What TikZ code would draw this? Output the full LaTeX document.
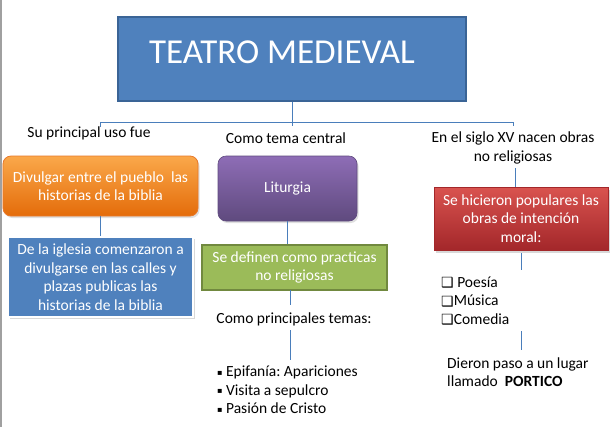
\documentclass[tikz,border=0pt]{standalone}
\usepackage{fontspec}
\setmainfont{Carlito}
\newfontfamily\symfont{DejaVu Sans}
\usetikzlibrary{shadows}
\frenchspacing
\definecolor{mainblue}{HTML}{4F81BD}
\definecolor{mainborder}{HTML}{3A6496}
\definecolor{linkblue}{HTML}{4A7EBB}
\definecolor{orangetop}{HTML}{FAA84A}
\definecolor{orangebot}{HTML}{E46C0A}
\definecolor{orangeborder}{HTML}{E8792A}
\definecolor{purpletop}{HTML}{8E6DB6}
\definecolor{purplebot}{HTML}{5F4A7E}
\definecolor{greenfill}{HTML}{9BBB59}
\definecolor{greenborder}{HTML}{71893F}
\definecolor{redtop}{HTML}{D9534F}
\definecolor{redbot}{HTML}{A3272A}
\definecolor{edgegray}{HTML}{A0A0A0}
\newcommand{\bodyfont}{\fontsize{15.5bp}{18.6bp}\selectfont}
\newcommand{\sqbullet}{\raisebox{1.6bp}{\symfont\fontsize{8bp}{9bp}\selectfont ▪}}
\newcommand{\chkbox}{\raisebox{-0.3bp}{\symfont\fontsize{14bp}{14bp}\selectfont ❑}}
\tikzset{
  box/.style={inner sep=0pt, align=center, text=white, font=\bodyfont},
  mainbox/.style={box, fill=mainblue, draw=mainborder, line width=1.2bp,
    minimum width=348bp, minimum height=84bp},
  titletxt/.style={text=white, inner sep=0pt, font=\fontsize{35bp}{40bp}\selectfont},
  orangebox/.style={box, rounded corners=8bp, top color=orangetop, bottom color=orangebot,
    draw=orangeborder, line width=0.8bp, minimum width=195bp, minimum height=60bp,
    drop shadow={opacity=0.25, shadow xshift=1.5bp, shadow yshift=-2bp}},
  bluebox/.style={box, fill=mainblue, draw=white, line width=1.5bp,
    minimum width=185bp, minimum height=80bp,
    drop shadow={opacity=0.3, shadow xshift=2bp, shadow yshift=-2bp}},
  purplebox/.style={box, rounded corners=8bp, top color=purpletop, bottom color=purplebot,
    draw=purplebot, line width=0.6bp, minimum width=139bp, minimum height=65bp,
    drop shadow={opacity=0.25, shadow xshift=1.5bp, shadow yshift=-2bp}},
  greenbox/.style={box, fill=greenfill, draw=greenborder, line width=1.5bp,
    minimum width=185bp, minimum height=45bp},
  redbox/.style={box, top color=redtop, bottom color=redbot, draw=redbot, line width=0.6bp,
    minimum width=174bp, minimum height=63bp,
    drop shadow={opacity=0.3, shadow xshift=2bp, shadow yshift=-2.5bp}},
  plain/.style={inner sep=0pt, align=center, text=black, font=\bodyfont},
  plainleft/.style={inner sep=0pt, align=left, text=black, font=\bodyfont},
  link/.style={draw=linkblue, line width=0.8bp}
}
\begin{document}
\begin{tikzpicture}[x=1bp,y=-1bp]
\useasboundingbox (0,0) rectangle (616,427);
\fill[white] (0,0) rectangle (616,427);
\fill[edgegray] (0,0) rectangle (2,427);

% main title
\node[mainbox] (main) at (292,59) {};
\node[titletxt] (title) at (282,52) {TEATRO MEDIEVAL};

% branch labels
\node[plain] (lbl1) at (89,133) {Su principal uso fue};
\node[plain] (lbl2) at (286,138) {Como tema central};
\node[plain] (lbl3) at (513,148) {En el siglo XV nacen obras\\no religiosas};

% left branch
\node[orangebox] (orange) at (100.5,186) {Divulgar entre el pueblo\ \ las\\historias de la biblia};
\node[bluebox] (blue2) at (100.5,277) {De la iglesia comenzaron a\\divulgarse en las calles y\\plazas publicas las\\historias de la biblia};

% middle branch
\node[purplebox] (purple) at (287.5,188.5) {Liturgia};
\node[greenbox] (green) at (294.5,267.5) {Se definen como practicas\\no religiosas};
\node[plain] (temas) at (294,319) {Como principales temas:};
\node[plainleft, anchor=west] (list) at (217,390)
  {\sqbullet\ Epifanía: Apariciones\\
   \sqbullet\ Visita a sepulcro\\
   \sqbullet\ Pasión de Cristo};

% right branch
\node[redbox] (red) at (521,218.5) {Se hicieron populares las\\obras de intención\\moral:};
\node[plainleft, anchor=west] (checks) at (441,301)
  {\chkbox\ Poesía\\
   \chkbox Música\\
   \chkbox Comedia};
\node[plainleft, anchor=west] (portico) at (447,372)
  {Dieron paso a un lugar\\llamado\ \ \textbf{PORTICO}};

% connectors
\coordinate (hub) at (292,122);
\coordinate (t1) at (100,127);
\coordinate (t3) at (513,126);
\draw[link] (main.south) -- (292,126);
\draw[link] (t1) -- (t1 |- hub) -- (t3 |- hub) -- (t3);
\draw[link] (orange.south -| t1) -- (blue2.north -| t1);
\draw[link] (purple.south) -- (purple.south |- green.north);
\coordinate (g1) at (290,290);
\coordinate (g2) at (290,305);
\draw[link] (g1) -- (g2);
\coordinate (m1) at (290,330);
\coordinate (m2) at (290,360);
\draw[link] (m1) -- (m2);
\coordinate (l3) at (515,168);
\draw[link] (l3) -- (red.north -| l3);
\coordinate (r1) at (521,253);
\coordinate (r2) at (521,270);
\draw[link] (r1) -- (r2);
\coordinate (c1) at (521,331);
\coordinate (c2) at (521,350);
\draw[link] (c1) -- (c2);
\end{tikzpicture}
\end{document}
